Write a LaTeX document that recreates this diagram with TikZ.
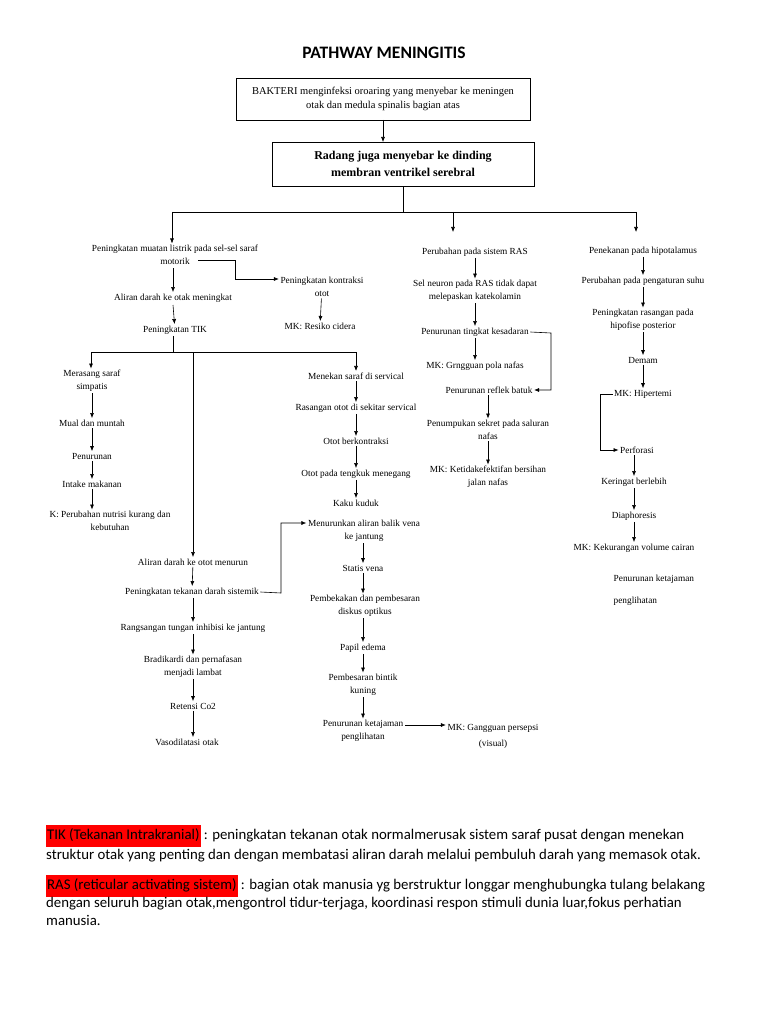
\documentclass[tikz,border=0pt]{standalone}
\usepackage{fontspec}
\setmainfont{Liberation Serif}
\newfontfamily\carl{Carlito}
\usetikzlibrary{arrows.meta}
\begin{document}
\begin{tikzpicture}[x=1pt,y=-1pt,
  t/.style={font=\fontsize{9.3}{13}\selectfont,align=center,inner sep=1.5pt},
  arr/.style={-{Latex[length=5pt,width=4pt]},line width=0.6pt},
  ln/.style={line width=0.6pt},
  bx/.style={draw,line width=0.6pt,align=center}]
\useasboundingbox (0,0) rectangle (768,1024);
\fill[white] (0,0) rectangle (768,1024);
\node[font=\carl\bfseries\fontsize{17.5}{20}\selectfont] (title) at (384,53) {PATHWAY MENINGITIS};
\node[bx,minimum width=294,minimum height=42,font=\fontsize{10.5}{14}\selectfont,anchor=north] (b1) at (383,78) {BAKTERI menginfeksi oroaring yang menyebar ke meningen\\otak dan medula spinalis bagian atas};
\node[bx,minimum width=262,minimum height=44,font=\bfseries\fontsize{12}{17}\selectfont,anchor=north] (b2) at (403,142) {Radang juga menyebar ke dinding\\membran ventrikel serebral};
\draw[arr] (383,120) -- (383,142);
\coordinate (j0) at (403,212);
\draw[ln] (b2.south) -- (j0);
\draw[ln] (172,212) -- (636,212);
% left column
\node[t] (a1) at (175,255) {Peningkatan muatan listrik pada sel-sel saraf\\motorik};
\draw[arr] (172,212) -- (a1.north -| 172,0);
\node[t] (a2) at (173,298) {Aliran darah ke otak meningkat};
\node[t] (a3) at (175,330) {Peningkatan TIK};
\node[t] (k1) at (322,287) {Peningkatan kontraksi\\otot};
\node[t] (k2) at (320,326) {MK: Resiko cidera};
\draw[arr] (173,268) -- (a2);
\draw[arr] (173,305) -- (a3);
\draw[arr] (198,260) -- (235,260) |- (k1.west |- 0,279);
\draw[arr] (k1) -- (k2);
\coordinate (tj) at (173,352);
\draw[ln] (a3.south -| 173,0) -- (tj);
\draw[ln] (91,352) -- (356,352);
% far left
\node[t] (l1) at (92,381) {Merasang saraf\\simpatis};
\node[t] (l2) at (92,423) {Mual dan muntah};
\node[t] (l3) at (92,456) {Penurunan};
\node[t] (l4) at (92,484) {Intake makanan};
\node[t] (l5) at (110,521) {K: Perubahan nutrisi kurang dan\\kebutuhan};
\draw[arr] (91,352) -- (l1.north -| 91,0);
\draw[arr] (l1) -- (l2); \draw[arr] (l2) -- (l3); \draw[arr] (l3) -- (l4);
\draw[arr] (l4) -- (l5.north -| 92,0);
% left-middle
\node[t] (m1) at (193,562) {Aliran darah ke otot menurun};
\node[t] (m2) at (192,592) {Peningkatan tekanan darah sistemik};
\node[t] (m3) at (193,628) {Rangsangan tungan inhibisi ke jantung};
\node[t] (m4) at (193,667) {Bradikardi dan pernafasan\\menjadi lambat};
\node[t] (m5) at (193,706) {Retensi Co2};
\node[t] (m6) at (187,742) {Vasodilatasi otak};
\draw[arr] (193,352) -- (m1);
\draw[arr] (m1) -- (m2); \draw[arr] (m2.south -| 193,0) -- (m3);
\draw[arr] (m3) -- (m4); \draw[arr] (m4) -- (m5); \draw[arr] (m5) -- (m6.north -| 193,0);
% middle
\node[t] (c1) at (356,376) {Menekan saraf di servical};
\node[t] (c2) at (356,408) {Rasangan otot di sekitar servical};
\node[t] (c3) at (356,441) {Otot berkontraksi};
\node[t] (c4) at (356,474) {Otot pada tengkuk menegang};
\node[t] (c5) at (356,503) {Kaku kuduk};
\node[t] (c6) at (364,531) {Menurunkan aliran balik vena\\ke jantung};
\node[t] (c7) at (363,568) {Statis vena};
\node[t] (c8) at (365,606) {Pembekakan dan pembesaran\\diskus optikus};
\node[t] (c9) at (363,648) {Papil edema};
\node[t] (c10) at (363,685) {Pembesaran bintik\\kuning};
\node[t] (c11) at (363,731) {Penurunan ketajaman\\penglihatan};
\node[t,align=center] (c12) at (493,736) {MK: Gangguan persepsi\\[3pt](visual)};
\draw[arr] (356,352) -- (c1);
\draw[arr] (c1) -- (c2); \draw[arr] (c2) -- (c3); \draw[arr] (c3) -- (c4); \draw[arr] (c4) -- (c5);
\draw[arr] (c6.south -| 363,0) -- (c7); \draw[arr] (c7) -- (c8.north -| 363,0);
\draw[arr] (c8.south -| 363,0) -- (c9); \draw[arr] (c9) -- (c10); \draw[arr] (c10) -- (c11);
\draw[arr] (c11.east |- 0,725) -- (c12.west |- 0,725);
\draw[arr] (m2.east) -- (281,593) |- (c6.west |- 0,523);
% RAS column
\node[t] (r1) at (475,252) {Perubahan pada sistem RAS};
\node[t] (r2) at (475,291) {Sel neuron pada RAS tidak dapat\\melepaskan katekolamin};
\node[t] (r3) at (475,332) {Penurunan tingkat kesadaran};
\node[t] (r4) at (475,366) {MK: Grngguan pola nafas};
\node[t] (r5) at (489,390) {Penurunan reflek batuk};
\node[t] (r6) at (488,430) {Penumpukan sekret pada saluran\\nafas};
\node[t] (r7) at (488,477) {MK: Ketidakefektifan bersihan\\jalan nafas};
\draw[arr] (453,212) -- (453,232);
\draw[arr] (r1.south -| 475,0) -- (r2); \draw[arr] (r2) -- (r3); \draw[arr] (r3) -- (r4);
\draw[arr] (r3.east) -- (551,333) |- (r5.east);
\draw[arr] (r5.south -| 488,0) -- (r6); \draw[arr] (r6) -- (r7);
% right column
\node[t] (h1) at (643,251) {Penekanan pada hipotalamus};
\node[t] (h2) at (643,281) {Perubahan pada pengaturan  suhu};
\node[t] (h3) at (643,320) {Peningkatan rasangan pada\\hipofise posterior};
\node[t] (h4) at (643,360) {Demam};
\node[t] (h5) at (643,394) {MK: Hipertemi};
\node[t] (h6) at (637,450) {Perforasi};
\node[t] (h7) at (634,482) {Keringat berlebih};
\node[t] (h8) at (634,516) {Diaphoresis};
\node[t] (h9) at (634,548) {MK: Kekurangan volume cairan};
\node[t,anchor=west] (h10) at (612,579) {Penurunan ketajaman};
\node[t,anchor=west] (h11) at (612,601) {penglihatan};
\draw[arr] (636,212) -- (636,232);
\draw[arr] (h1) -- (h2); \draw[arr] (h2) -- (h3); \draw[arr] (h3) -- (h4); \draw[arr] (h4) -- (h5);
\draw[arr] (h5.west) -- (600,394) |- (h6.west);
\draw[arr] (h6.south -| 634,0) -- (h7); \draw[arr] (h7) -- (h8); \draw[arr] (h8) -- (h9);
% definitions
\tikzset{d/.style={anchor=base west,inner sep=0pt,font=\carl\fontsize{14.8}{16}\selectfont}}
\node[d] (p1) at (46,839) {\colorbox{red}{\strut\hspace{-2pt}TIK (Tekanan Intrakranial)\hspace{-2pt}} : peningkatan tekanan otak normalmerusak sistem saraf pusat dengan menekan};
\node[d] (p2) at (46,859) {struktur otak yang penting dan dengan membatasi aliran darah melalui pembuluh darah yang memasok otak.};
\node[d] (p3) at (46,889) {\colorbox{red}{\strut\hspace{-2pt}RAS (reticular activating sistem)\hspace{-2pt}} : bagian otak manusia yg berstruktur longgar menghubungka tulang belakang};
\node[d] (p4) at (46,907) {dengan seluruh bagian otak,mengontrol tidur-terjaga, koordinasi respon stimuli dunia luar,fokus perhatian};
\node[d] (p5) at (46,925) {manusia.};
\end{tikzpicture}
\end{document}
